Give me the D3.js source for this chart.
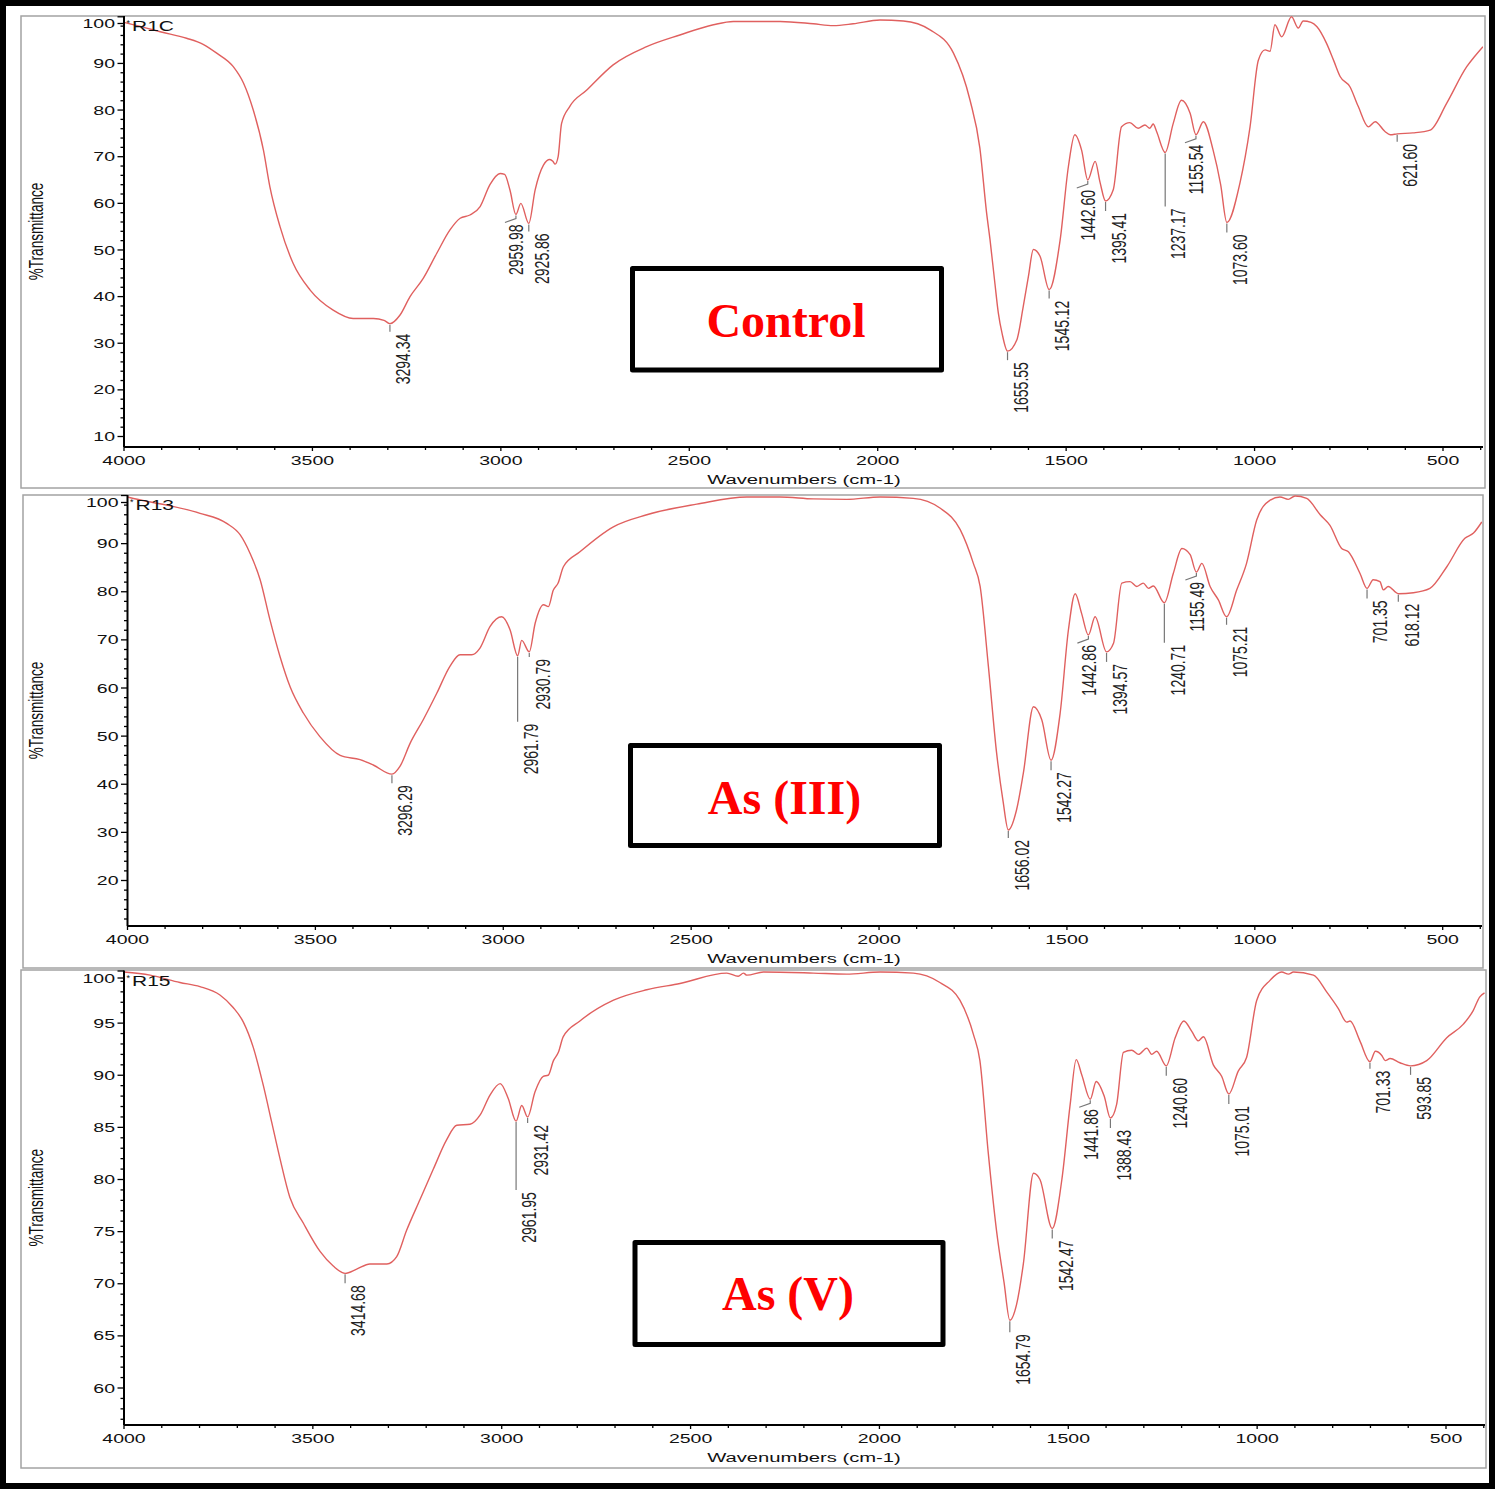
<!DOCTYPE html>
<html>
<head>
<meta charset="utf-8">
<script src="https://cdn.jsdelivr.net/npm/d3@7"></script>
<style>
  body { margin: 0; background: #fff; }
  svg { display: block; }
</style>
</head>
<body>
<div id="chart"></div>
<script>
// spectra: [wavenumber, %T]
const controlSpectrum = [
  [4000,98.8],[3950,97.8],[3904,96.8],[3834,95.4],[3790,94.1],[3754,92.2],[3710,89.3],[3683,85.8],
  [3657,80.0],[3630,71.4],[3613,63.6],[3586,55.0],[3551,47.1],[3506,41.4],[3445,37.1],[3392,35.3],
  [3338,35.3],[3310,34.9],[3294.34,34.2],[3268,36.0],[3241,40.0],[3206,43.9],[3170,49.3],[3135,54.3],
  [3108,56.8],[3082,57.5],[3055,59.3],[3029,64.0],[3002,66.4],[2990,66.2],[2976,62.9],[2959.98,57.6],
  [2947,60.0],[2925.86,55.7],[2909,62.9],[2887,68.2],[2870,69.4],[2862,69.0],[2856,68.4],[2848,70.0],
  [2839,77.1],[2817,80.8],[2772,84.3],[2702,89.7],[2613,93.6],[2525,96.1],[2436,98.3],[2383,99.0],
  [2259,99.0],[2171,98.5],[2118,98.1],[2065,98.5],[1994,99.3],[1932,99.1],[1861,97.2],[1799,92.2],
  [1755,82.1],[1729,71.9],[1711,57.9],[1702,52.2],[1689,42.8],[1680,36.5],[1670,32.1],[1655.55,28.3],
  [1631,30.7],[1614,37.8],[1600,44.4],[1587,50.1],[1569,48.6],[1545.12,41.5],[1516,52.1],[1494,67.9],
  [1477,74.7],[1459,71.4],[1442.60,65.0],[1423,69.0],[1410,64.5],[1395.41,60.5],[1375,62.9],[1353,76.4],
  [1331,77.3],[1309,76.1],[1291,76.8],[1278,76.1],[1269,77.0],[1260,75.4],[1237.17,70.9],[1216,77.1],
  [1194,82.1],[1171,79.3],[1155.54,74.7],[1136,77.5],[1110,71.4],[1090,64.0],[1073.60,55.9],[1039,64.3],
  [1012,76.4],[990,90.7],[972,92.9],[959,92.6],[946,98.3],[928,95.7],[902,100.0],[884,97.6],
  [871,99.1],[850,98.8],[835,97.9],[809,94.3],[790,90.6],[773,87.2],[747,85.0],[725,80.8],
  [698,76.4],[680,77.5],[654,75.4],[640,74.7],[621.60,74.9],[580,75.1],[534,75.7],[490,81.5],
  [437,89.3],[415,91.6],[394,93.6]
];
const as3Spectrum = [
  [4000,99.7],[3950,98.8],[3895,98.0],[3807,96.3],[3736,94.2],[3700,91.8],[3674,88.0],[3647,82.5],
  [3621,74.2],[3594,66.5],[3567,60.2],[3532,54.8],[3488,49.9],[3434,46.0],[3381,45.1],[3346,44.0],
  [3296.29,42.1],[3275,43.7],[3248,48.5],[3213,53.4],[3177,58.9],[3142,64.5],[3115,66.9],[3084,66.9],
  [3062,68.3],[3035,72.8],[3004,74.8],[2982,72.1],[2961.79,66.7],[2951,69.9],[2930.79,67.5],[2915,73.5],
  [2893,77.3],[2880,76.9],[2867,80.3],[2854,81.8],[2840,85.2],[2796,88.3],[2707,93.5],[2618,96.0],
  [2485,98.2],[2352,99.7],[2264,99.7],[2175,99.3],[2086,99.2],[1997,99.7],[1909,99.4],[1838,97.4],
  [1784,92.9],[1749,85.9],[1731,81.1],[1709,64.5],[1687,46.4],[1670,36.5],[1656.02,30.5],[1634,34.7],
  [1616,42.3],[1589,56.1],[1567,53.4],[1542.27,45.0],[1518,54.8],[1496,72.1],[1478,79.6],[1461,75.5],
  [1442.86,71.0],[1425,74.8],[1394.57,67.5],[1376,69.3],[1354,81.8],[1332,82.1],[1314,81.1],[1297,81.8],
  [1283,80.7],[1270,81.2],[1240.71,77.7],[1217,83.8],[1194,89.0],[1172,87.7],[1155.49,84.1],[1141,85.9],
  [1119,81.1],[1097,78.3],[1075.21,74.8],[1048,80.4],[1022,85.9],[995,94.9],[960,99.0],[933,99.7],
  [911,99.2],[893,99.9],[862,99.4],[826,96.0],[800,93.8],[769,89.0],[751,88.3],[720,83.8],
  [701.35,80.7],[685,82.5],[667,82.1],[658,80.4],[645,81.1],[618.12,79.6],[578,79.8],[534,80.7],
  [489,85.2],[441,91.1],[418,92.2],[396,94.5]
];
const as5Spectrum = [
  [4000,99.9],[3931,99.6],[3852,98.9],[3799,98.5],[3746,97.7],[3711,96.5],[3684,95.1],[3658,92.7],
  [3631,89.0],[3609,85.5],[3587,82.0],[3561,78.3],[3525,75.8],[3481,73.1],[3446,71.7],[3414.68,71.0],
  [3384,71.4],[3349,71.9],[3304,71.9],[3278,72.6],[3252,75.1],[3216,78.1],[3181,81.0],[3146,83.8],
  [3119,85.2],[3084,85.3],[3057,86.2],[3031,88.1],[3004,89.2],[2983,87.8],[2961.95,85.6],[2947,87.1],
  [2931.42,86.0],[2912,88.4],[2890,89.9],[2877,90.0],[2863,91.4],[2850,92.2],[2837,93.7],[2793,95.2],
  [2704,97.2],[2616,98.2],[2528,98.8],[2404,99.8],[2374,99.5],[2360,99.8],[2351,99.6],[2307,99.9],
  [2175,99.8],[2087,99.7],[1998,99.9],[1910,99.8],[1840,98.9],[1787,97.2],[1751,93.9],[1734,91.4],
  [1712,82.6],[1690,75.1],[1670,70.1],[1654.79,66.5],[1637,68.0],[1619,71.9],[1592,80.6],[1575,80.0],
  [1542.47,75.3],[1517,80.0],[1495,87.2],[1479,91.5],[1464,90.0],[1441.86,87.7],[1426,89.4],[1405,88.0],
  [1388.43,85.9],[1372,87.2],[1354,92.2],[1332,92.4],[1314,92.0],[1292,92.6],[1279,92.0],[1266,92.3],
  [1240.60,90.9],[1217,93.6],[1194,95.2],[1173,94.2],[1156,93.3],[1142,93.7],[1116,91.0],[1094,89.9],
  [1075.01,88.2],[1050,90.4],[1028,91.7],[1001,97.2],[966,99.1],[935,99.9],[917,99.7],[904,99.9],
  [851,99.6],[816,98.0],[785,96.4],[763,95.1],[754,95.2],[728,93.3],[701.33,91.3],[687,92.3],
  [670,91.9],[661,91.4],[648,91.6],[622,91.2],[593.85,90.9],[551,91.4],[498,93.6],[454,94.9],
  [428,96.2],[411,97.5],[398,97.9]
];

// labelled peaks
const controlPeaks = [3294.34, 2959.98, 2925.86, 1655.55, 1545.12, 1442.60, 1395.41, 1237.17, 1155.54, 1073.60, 621.60];
const as3Peaks = [3296.29, 2961.79, 2930.79, 1656.02, 1542.27, 1442.86, 1394.57, 1240.71, 1155.49, 1075.21, 701.35, 618.12];
const as5Peaks = [3414.68, 2961.95, 2931.42, 1654.79, 1542.47, 1441.86, 1388.43, 1240.60, 1075.01, 701.33, 593.85];

// tick length under each peak in px, 0 = slanted leader
const controlLeads = [8, 0, 8, 9, 9, 0, 10, 54, 0, 10, 8];
const as3Leads = [9, 66, 5, 8, 10, 0, 10, 40, 0, 8, 10, 8];
const as5Leads = [10, 69, 6, 12, 10, 0, 10, 10, 10, 7, 9];

const xTickValues = [4000, 3500, 3000, 2500, 2000, 1500, 1000, 500];

const panels = [
  { tag: "R1C", name: "Control", data: controlSpectrum, peaks: controlPeaks, leads: controlLeads,
    frame: [21, 16, 1464, 472], xPx: [124, 1443], right: 1483, top: 16, axisY: 447,
    yRef: [[10, 436.5], [100, 16.8]], yMajor: 10, yMinor: 2,
    box: [632.5, 268.5, 309, 101.5], boxText: [786, 337] },
  { tag: "R13", name: "As (III)", data: as3Spectrum, peaks: as3Peaks, leads: as3Leads,
    frame: [23, 495, 1460, 473], xPx: [127.5, 1442.7], right: 1482, top: 495, axisY: 926,
    yRef: [[20, 880.5], [100, 495.5]], yMajor: 10, yMinor: 2,
    box: [630.5, 745.5, 309, 100], boxText: [784.5, 814] },
  { tag: "R15", name: "As (V)", data: as5Spectrum, peaks: as5Peaks, leads: as5Leads,
    frame: [21, 970, 1465, 498], xPx: [124, 1446], right: 1485, top: 970.5, axisY: 1425,
    yRef: [[60, 1388], [100, 971]], yMajor: 5, yMinor: 1,
    box: [635, 1242.5, 308, 102], boxText: [788, 1310] }
];

const W = 1497, H = 1491;
const sans = "'Liberation Sans', Arial, sans-serif";
const serif = "'Liberation Serif', 'Times New Roman', serif";
const stretch = 1.5;
const fmt = d3.format(".2f");

const svg = d3.select("#chart").append("svg")
    .attr("width", W)
    .attr("height", H);

svg.append("rect").attr("width", W).attr("height", H).attr("fill", "#fff");

panels.forEach((p, i) => {
  const g = svg.append("g");

  const x = d3.scaleLinear().domain([4000, 500]).range(p.xPx);
  const y = d3.scaleLinear().domain([p.yRef[0][0], p.yRef[1][0]]).range([p.yRef[0][1], p.yRef[1][1]]);
  const x0 = p.xPx[0];
  const yBottom = y.invert(p.axisY), yTop = y.invert(p.top);
  const wEnd = x.invert(p.right);

  // panel frame
  g.append("rect")
      .attr("x", p.frame[0]).attr("y", p.frame[1])
      .attr("width", p.frame[2]).attr("height", p.frame[3])
      .attr("fill", "none").attr("stroke", "#a3a3a3").attr("stroke-width", 1.5);

  // curve
  g.append("clipPath").attr("id", "clip" + i)
    .append("rect")
      .attr("x", x0).attr("y", p.top - 2)
      .attr("width", p.right - x0).attr("height", p.axisY - p.top + 2);

  const line = d3.line()
      .x(d => x(d[0]))
      .y(d => y(d[1]))
      .curve(d3.curveMonotoneX);

  g.append("path")
      .datum(p.data)
      .attr("clip-path", `url(#clip${i})`)
      .attr("d", line)
      .attr("fill", "none")
      .attr("stroke", "#e0605f")
      .attr("stroke-width", 1.4);

  // y axis
  g.append("line")
      .attr("x1", x0).attr("x2", x0)
      .attr("y1", p.top).attr("y2", p.axisY)
      .attr("stroke", "#000").attr("stroke-width", 2);

  const yStart = Math.ceil(yBottom / p.yMinor) * p.yMinor;
  d3.range(yStart, yTop, p.yMinor).forEach(v => {
    const v2 = Math.round(v * 100) / 100;
    const yy = y(v2);
    if (yy > p.axisY - 2) return;
    const major = Math.abs(v2 / p.yMajor - Math.round(v2 / p.yMajor)) < 1e-6;
    g.append("line")
        .attr("x1", x0 - (major ? 6.5 : 3.5)).attr("x2", x0)
        .attr("y1", yy).attr("y2", yy)
        .attr("stroke", "#000").attr("stroke-width", 1.3);
    if (major) {
      // the top label is pushed down inside the frame
      const ly = Math.max(yy, p.top + 7.5);
      if (ly !== yy) {
        g.append("line")
            .attr("x1", x0 - 6.5).attr("x2", x0)
            .attr("y1", ly).attr("y2", ly)
            .attr("stroke", "#000").attr("stroke-width", 1.3);
      }
      g.append("text")
          .attr("transform", `translate(${x0 - 9},${ly + 4.6}) scale(${stretch},1)`)
          .attr("text-anchor", "end")
          .attr("font-family", sans).attr("font-size", 13)
          .attr("fill", "#111")
          .text(v2);
    }
  });

  // x axis
  g.append("line")
      .attr("x1", x0).attr("x2", p.right)
      .attr("y1", p.axisY).attr("y2", p.axisY)
      .attr("stroke", "#000").attr("stroke-width", 2);

  d3.range(4000, wEnd - 1, -100).forEach(v => {
    const major = v % 500 === 0;
    g.append("line")
        .attr("x1", x(v)).attr("x2", x(v))
        .attr("y1", p.axisY).attr("y2", p.axisY + (major ? 4 : 3))
        .attr("stroke", "#000").attr("stroke-width", 1.3);
  });

  xTickValues.forEach(v => {
    g.append("text")
        .attr("transform", `translate(${x(v)},${p.axisY + 17.5}) scale(${stretch},1)`)
        .attr("text-anchor", "middle")
        .attr("font-family", sans).attr("font-size", 13)
        .attr("fill", "#111")
        .text(v);
  });

  g.append("text")
      .attr("transform", `translate(804,${p.axisY + 37}) scale(${stretch},1)`)
      .attr("text-anchor", "middle")
      .attr("font-family", sans).attr("font-size", 13.5)
      .attr("fill", "#111")
      .text("Wavenumbers (cm-1)");

  g.append("text")
      .attr("transform", `translate(43,${(p.top + p.axisY) / 2}) scale(${stretch},1) rotate(-90)`)
      .attr("text-anchor", "middle")
      .attr("font-family", sans).attr("font-size", 13.6)
      .attr("fill", "#111")
      .text("%Transmittance");

  // sample tag
  g.append("text")
      .attr("x", x0 + 2.5).attr("y", p.top + 10)
      .attr("font-family", sans).attr("font-size", 9)
      .attr("fill", "#111")
      .text("*");
  g.append("text")
      .attr("transform", `translate(${x0 + 8},${p.top + 15}) scale(${stretch},1)`)
      .attr("font-family", sans).attr("font-size", 14)
      .attr("fill", "#111")
      .text(p.tag);

  // peak marks
  const bis = d3.bisector(d => -d[0]).left;
  const valueAt = w => {
    const j = bis(p.data, -w);
    if (j <= 0) return p.data[0][1];
    if (j >= p.data.length) return p.data[p.data.length - 1][1];
    const a = p.data[j - 1], b = p.data[j];
    return a[1] + (b[1] - a[1]) * (w - a[0]) / (b[0] - a[0]);
  };

  p.peaks.forEach((w, k) => {
    const px = x(w), py = y(valueAt(w));
    const lead = p.leads[k];
    let labelTop, cx;
    if (lead === 0) {
      g.append("path")
          .attr("d", `M${px},${py + 1}L${px},${py + 4}L${px - 11},${py + 8}`)
          .attr("fill", "none").attr("stroke", "#777").attr("stroke-width", 1.2);
      labelTop = py + 10;
      cx = px;
    } else {
      g.append("line")
          .attr("x1", px).attr("x2", px)
          .attr("y1", py + 1).attr("y2", py + lead)
          .attr("stroke", "#777").attr("stroke-width", 1.2);
      labelTop = py + lead + 2;
      cx = px + 13;
    }
    g.append("text")
        .attr("transform", `translate(${cx + 7.3},${labelTop}) scale(1.45,1) rotate(-90)`)
        .attr("text-anchor", "end")
        .attr("font-family", sans).attr("font-size", 14)
        .attr("fill", "#222")
        .text(fmt(w));
  });

  // sample box
  g.append("rect")
      .attr("x", p.box[0]).attr("y", p.box[1])
      .attr("width", p.box[2]).attr("height", p.box[3])
      .attr("fill", "#fff").attr("stroke", "#000").attr("stroke-width", 5)
      .attr("stroke-linejoin", "round");
  g.append("text")
      .attr("x", p.boxText[0]).attr("y", p.boxText[1])
      .attr("text-anchor", "middle")
      .attr("font-family", serif).attr("font-weight", "bold").attr("font-size", 48)
      .attr("fill", "#ff0000")
      .text(p.name);
});

// outer border
svg.append("rect")
    .attr("x", 3).attr("y", 3)
    .attr("width", 1489).attr("height", 1483)
    .attr("fill", "none").attr("stroke", "#000").attr("stroke-width", 6);
</script>
</body>
</html>
